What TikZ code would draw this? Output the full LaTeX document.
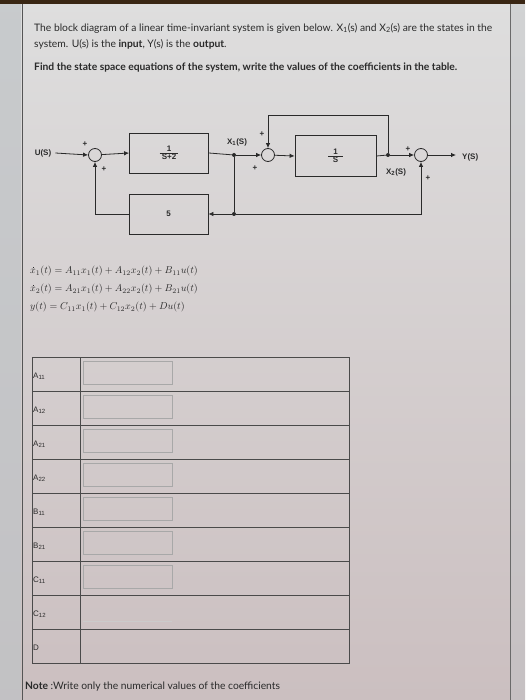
\documentclass[tikz,border=0pt]{standalone}
\usepackage{fontspec}
\setmainfont{Lato}
\newfontfamily\arialf{Liberation Sans}
\usetikzlibrary{arrows.meta}
\definecolor{pagebg}{HTML}{DEDEDE}
\definecolor{pagebot}{HTML}{CBBFC0}
\definecolor{edgebg}{HTML}{BFC3C6}
\definecolor{ink}{HTML}{2A2A2A}
\definecolor{boxline}{HTML}{A8A8A8}
\newcommand\mydotx{\mathord{\ooalign{$x$\cr\hidewidth\hskip1.2pt\rule[5.6pt]{1pt}{1pt}\hidewidth\cr}}}
\begin{document}
\begin{tikzpicture}[x=1pt,y=-1pt,
  every node/.style={text=ink},
  sumc/.style={circle,draw=ink,line width=0.8pt,minimum size=13pt,inner sep=0pt},
  blk/.style={draw=ink,line width=0.8pt,minimum width=79pt,minimum height=40pt,inner sep=0pt},
  dotj/.style={circle,fill=ink,minimum size=4pt,inner sep=0pt},
  wire/.style={draw=ink,line width=0.8pt},
  arr/.style={wire,-{Latex[length=5pt,width=4.5pt]}},
  pm/.style={font=\arialf\bfseries\fontsize{8}{8}\selectfont,inner sep=0pt},
  lbl/.style={font=\arialf\bfseries\fontsize{8}{9}\selectfont,inner sep=0pt},
  txt/.style={anchor=west,inner sep=0pt,font=\fontsize{10.3}{12}\selectfont},
  eq/.style={anchor=west,inner sep=0pt,text height=7pt,text depth=2pt,font=\fontsize{10}{12}\selectfont},
  cellt/.style={anchor=west,inner sep=0pt,font=\arialf\fontsize{8}{9}\selectfont},
  tline/.style={draw=ink!85,line width=0.7pt},
  inbox/.style={draw=boxline,line width=0.5pt}
]
\useasboundingbox (0,0) rectangle (525,700);
% background
\shade[top color=pagebg,bottom color=pagebot] (0,0) rectangle (525,700);
\fill[edgebg,opacity=0.7] (0,0) rectangle (21,700);
\fill[edgebg,opacity=0.4] (511,0) rectangle (525,700);
\fill[black!70!brown] (0,0) rectangle (525,4);
\draw[ink!80,line width=0.8pt] (22,4) -- (22,700);
\draw[ink!70,line width=0.8pt] (510,4) -- (510,700);

% text
\node[txt] (t1) at (34,28) {The block diagram of a linear time-invariant system is given below. X\textsubscript{1}(s) and X\textsubscript{2}(s) are the states in the};
\node[txt] (t2) at (34,44) {system. U(s) is the \textbf{input}, Y(s) is the \textbf{output}.};
\node[txt] (t3) at (34,68) {\textbf{Find the state space equations of the system, write the values of the coefficients in the table.}};

% block diagram
\node[lbl] (u) at (43,153) {U(S)};
\node[sumc] (s1) at (95,155) {};
\node[blk] (b1) at (169,153) {$\frac{\hbox{\arialf\bfseries\fontsize{8}{9}\selectfont 1}}{\hbox{\arialf\bfseries\fontsize{8}{9}\selectfont \ S+2\ }}$};
\node[dotj] (j1) at (234,155) {};
\node[sumc] (s2) at (268,155) {};
\node[blk,minimum width=81pt,minimum height=41pt] (b2) at (335.5,156) {$\frac{\hbox{\arialf\bfseries\fontsize{8}{9}\selectfont 1}}{\hbox{\arialf\bfseries\fontsize{8}{9}\selectfont \ \ S\ \ }}$};
\node[dotj] (j2) at (388,155) {};
\node[sumc] (s3) at (421,155) {};
\node[blk] (b3) at (168.5,214) {\arialf\bfseries\fontsize{8}{9}\selectfont 5};
\node[dotj] (j3) at (234,214) {};
\coordinate (yend) at (456,155);
\node[lbl,anchor=west] (y) at (462,157) {Y(S)};
\coordinate (ctop1) at (268,115);
\coordinate (ctop2) at (388,115);
\coordinate (cbl) at (95,214);
\coordinate (cbr) at (421,214);

\draw[arr] (u.east)++(4,0) -- (s1.west);
\draw[arr] (s1) -- (b1.west);
\draw[wire] (b1.east) -- (j1);
\draw[arr] (j1) -- (s2.west);
\draw[arr] (s2) -- (b2.west);
\draw[wire] (b2.east) -- (j2);
\draw[arr] (j2) -- (s3.west);
\draw[arr] (s3) -- (yend);
\draw[arr] (j2) -- (ctop2) -- (ctop1) -- (s2.north);
\draw[wire] (j1) -- (j3);
\draw[arr] (j3) -- (b3.east);
\draw[arr] (j3) -- (cbr) -- (s3.south);
\draw[arr] (b3.west) -- (cbl) -- (s1.south);

\node[lbl] (x1) at (237,142) {X\textsubscript{1}(S)};
\node[lbl] (x2) at (396,172) {X\textsubscript{2}(S)};
\node[pm] (p1) at (85,144) {+};
\node[pm] (p2) at (104,169) {+};
\node[pm] (p3) at (262,134) {+};
\node[pm] (p4) at (255,168) {+};
\node[pm] (p5) at (408,149) {+};
\node[pm] (p6) at (428,178) {+};

% equations
\node[eq] (e1) at (30,271) {$\mydotx_1(t)=A_{11}x_1(t)+A_{12}x_2(t)+B_{11}u(t)$};
\node[eq] (e2) at (30,289) {$\mydotx_2(t)=A_{21}x_1(t)+A_{22}x_2(t)+B_{21}u(t)$};
\node[eq] (e3) at (30,307) {$y(t)=C_{11}x_1(t)+C_{12}x_2(t)+Du(t)$};

% table
\foreach \i/\lab in {0/{A\textsubscript{11}},1/{A\textsubscript{12}},2/{A\textsubscript{21}},3/{A\textsubscript{22}},4/{B\textsubscript{11}},5/{B\textsubscript{21}},6/{C\textsubscript{11}},7/{C\textsubscript{12}},8/{D}}{
  \node[cellt] (c\i) at (33,{357+34*\i+19}) {\lab};
}
\foreach \i in {0,...,6}{
  \draw[inbox] (83,{357+34*\i+4}) rectangle (172,{357+34*\i+27});
}
\draw[inbox,draw=boxline!60] (83,{357+34*7+26}) -- (172,{357+34*7+26});
\draw[tline] (32,357) rectangle (349,663);
\foreach \i in {1,...,8}{
  \draw[tline] (32,{357+34*\i}) -- (349,{357+34*\i});
}
\draw[tline] (80,357) -- (80,663);

\node[anchor=west,inner sep=0pt,font=\fontsize{10.3}{12}\selectfont] (note) at (25,687) {\textbf{Note} :Write only the numerical values of the coefficients};
\end{tikzpicture}
\end{document}
